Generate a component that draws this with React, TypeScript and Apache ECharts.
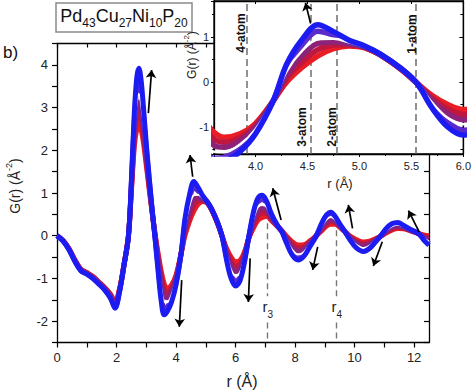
import React, { useEffect, useRef } from 'react';
import * as echarts from 'echarts';

// r grid (Å)
const rValues = [
  0, 0.2, 0.4, 0.6, 0.8, 1.0, 1.2, 1.4, 1.6, 1.8,
  1.95, 2.1, 2.25, 2.4, 2.5, 2.6, 2.68, 2.75, 2.82, 2.9,
  3.0, 3.1, 3.2, 3.3, 3.4, 3.5, 3.6, 3.7, 3.85, 4.0,
  4.17, 4.3, 4.45, 4.6, 4.75, 4.9, 5.05, 5.2, 5.4, 5.55,
  5.7, 5.85, 6.0, 6.15, 6.3, 6.45, 6.6, 6.75, 6.9, 7.05,
  7.2, 7.4, 7.55, 7.7, 7.9, 8.1, 8.3, 8.5, 8.7, 8.9,
  9.05, 9.2, 9.35, 9.5, 9.68, 9.85, 10.05, 10.3, 10.5, 10.7,
  10.86, 11.05, 11.25, 11.45, 11.65, 11.9, 12.15, 12.35, 12.5,
];

const gRed = [
  0, -0.11, -0.30, -0.56, -0.78, -0.86, -0.95, -1.08, -1.21, -1.37,
  -1.55, -1.25, -0.68, 0.00, 1.05, 2.10, 2.50, 2.60, 2.50, 2.20,
  1.65, 1.08, 0.52, 0.02, -0.42, -0.82, -1.12, -1.23, -1.15, -0.92,
  -0.42, 0.00, 0.33, 0.58, 0.74, 0.80, 0.76, 0.60, 0.28, -0.02,
  -0.30, -0.50, -0.61, -0.58, -0.38, -0.05, 0.18, 0.36, 0.43, 0.45,
  0.36, 0.22, 0.12, 0.00, -0.14, -0.22, -0.21, -0.12, -0.01, 0.12,
  0.22, 0.27, 0.27, 0.20, 0.09, -0.01, -0.09, -0.15, -0.13, -0.07,
  -0.02, 0.06, 0.13, 0.17, 0.16, 0.11, 0.05, 0.01, 0.00,
];

const gCrimson = [
  0, -0.11, -0.30, -0.57, -0.79, -0.87, -0.96, -1.09, -1.22, -1.39,
  -1.58, -1.26, -0.68, 0.00, 1.10, 2.26, 2.74, 2.86, 2.74, 2.37,
  1.75, 1.13, 0.54, 0.00, -0.51, -0.96, -1.27, -1.34, -1.23, -0.97,
  -0.42, 0.08, 0.45, 0.72, 0.82, 0.83, 0.77, 0.60, 0.28, -0.02,
  -0.36, -0.60, -0.72, -0.67, -0.43, -0.04, 0.25, 0.46, 0.53, 0.52,
  0.39, 0.23, 0.11, -0.03, -0.20, -0.29, -0.26, -0.15, -0.01, 0.16,
  0.27, 0.33, 0.31, 0.22, 0.09, -0.03, -0.13, -0.19, -0.16, -0.09,
  -0.02, 0.08, 0.16, 0.20, 0.18, 0.12, 0.05, -0.02, -0.04,
];

const gMagenta = [
  0, -0.11, -0.31, -0.58, -0.80, -0.88, -0.97, -1.10, -1.23, -1.41,
  -1.61, -1.28, -0.69, -0.01, 1.15, 2.42, 2.98, 3.13, 2.97, 2.54,
  1.85, 1.19, 0.55, -0.03, -0.59, -1.10, -1.41, -1.45, -1.31, -1.01,
  -0.42, 0.16, 0.58, 0.86, 0.89, 0.85, 0.78, 0.61, 0.29, -0.02,
  -0.41, -0.70, -0.84, -0.77, -0.48, -0.03, 0.33, 0.57, 0.64, 0.59,
  0.42, 0.23, 0.11, -0.06, -0.26, -0.36, -0.32, -0.17, -0.01, 0.19,
  0.32, 0.38, 0.34, 0.23, 0.09, -0.05, -0.17, -0.24, -0.20, -0.10,
  -0.02, 0.10, 0.19, 0.23, 0.19, 0.12, 0.05, -0.04, -0.09,
];

const gWhite = [
  0, -0.12, -0.31, -0.58, -0.80, -0.88, -0.98, -1.11, -1.25, -1.43,
  -1.64, -1.29, -0.69, -0.01, 1.20, 2.58, 3.15, 3.32, 3.12, 2.68,
  1.95, 1.24, 0.57, -0.05, -0.68, -1.24, -1.55, -1.56, -1.39, -1.05,
  -0.42, 0.24, 0.70, 0.95, 0.96, 0.88, 0.78, 0.61, 0.29, -0.02,
  -0.46, -0.80, -0.94, -0.86, -0.52, -0.02, 0.40, 0.67, 0.75, 0.67,
  0.46, 0.24, 0.11, -0.09, -0.33, -0.44, -0.38, -0.20, -0.02, 0.23,
  0.38, 0.44, 0.38, 0.25, 0.09, -0.07, -0.21, -0.29, -0.24, -0.12,
  -0.02, 0.12, 0.22, 0.26, 0.21, 0.13, 0.05, -0.07, -0.14,
];

const gViolet = [
  0, -0.12, -0.32, -0.59, -0.81, -0.89, -0.99, -1.12, -1.26, -1.45,
  -1.67, -1.31, -0.70, -0.02, 1.25, 2.74, 3.46, 3.66, 3.44, 2.88,
  2.05, 1.30, 0.58, -0.08, -0.76, -1.38, -1.70, -1.67, -1.47, -1.10,
  -0.42, 0.32, 0.83, 1.13, 1.04, 0.90, 0.79, 0.62, 0.30, -0.02,
  -0.52, -0.90, -1.07, -0.96, -0.57, -0.01, 0.48, 0.78, 0.85, 0.73,
  0.49, 0.24, 0.11, -0.12, -0.39, -0.50, -0.43, -0.22, -0.02, 0.26,
  0.43, 0.49, 0.41, 0.26, 0.09, -0.08, -0.24, -0.33, -0.27, -0.13,
  -0.02, 0.14, 0.25, 0.28, 0.22, 0.13, 0.05, -0.09, -0.18,
];

const gBlue = [
  0, -0.12, -0.32, -0.60, -0.82, -0.90, -1.00, -1.13, -1.27, -1.47,
  -1.70, -1.32, -0.70, -0.02, 1.30, 2.90, 3.70, 3.92, 3.68, 3.05,
  2.15, 1.35, 0.60, -0.10, -0.85, -1.52, -1.85, -1.78, -1.55, -1.15,
  -0.42, 0.40, 0.95, 1.27, 1.12, 0.93, 0.80, 0.62, 0.30, -0.02,
  -0.58, -1.00, -1.18, -1.05, -0.62, 0.00, 0.55, 0.88, 0.95, 0.80,
  0.52, 0.25, 0.10, -0.15, -0.45, -0.57, -0.48, -0.25, -0.02, 0.30,
  0.48, 0.55, 0.45, 0.28, 0.09, -0.10, -0.28, -0.37, -0.30, -0.15,
  -0.02, 0.16, 0.28, 0.31, 0.24, 0.14, 0.05, -0.12, -0.22,
];

// annotation arrows (from [r, G] to [r, G]) in data units
const mainArrows = [
  [[3.07, 2.87], [3.18, 3.88]],
  [[4.56, 1.38], [4.47, 1.89]],
  [[4.19, -1.04], [4.11, -2.13]],
  [[7.53, 0.37], [7.25, 1.11]],
  [[6.49, -0.53], [6.43, -1.55]],
  [[9.93, 0.17], [9.79, 0.72]],
  [[8.76, -0.26], [8.59, -0.8]],
  [[12.17, 0.09], [11.81, 0.59]],
  [[10.93, -0.14], [10.63, -0.71]],
];
const insetArrows = [[[4.53, 1.3], [4.48, 1.76]]];

const atomLines = [3.92, 4.53, 4.78, 5.54];
const shellMarks = [
  { r: 7.08, top: 0.29, labelY: -1.72, idx: '3' },
  { r: 9.4, top: 0.13, labelY: -1.72, idx: '4' },
];

const FONT = "'Liberation Sans', Arial, Helvetica, sans-serif";

const curveDefs = [
  { values: gRed, color: '#ea1d24', width: 5 },
  { values: gCrimson, color: '#c0173f', width: 5 },
  { values: gMagenta, color: '#8c2279', width: 5 },
  { values: gViolet, color: '#5a2ccc', width: 5 },
  { values: gWhite, color: '#ffffff', width: 2 },
  { values: gBlue, color: '#1c1cf2', width: 5 },
];

function buildOption() {
  const intLabel = (v: number) => (Math.abs(v - Math.round(v)) < 1e-9 ? String(Math.round(v)) : '');
  const evenLabel = (v: number) => (Math.abs(v / 2 - Math.round(v / 2)) < 1e-9 ? String(Math.round(v)) : '');
  const axisLineStyle = { color: '#000', width: 1.3 };

  const series: any[] = [];
  curveDefs.forEach((c, i) => {
    const pts = rValues.map((r, k) => [r, c.values[k]]);
    series.push({
      type: 'line', xAxisIndex: 0, yAxisIndex: 0, data: pts, smooth: 0.35,
      showSymbol: false, symbol: 'none', silent: true, z: 2 + i,
      lineStyle: { color: c.color, width: c.width },
    });
    series.push({
      type: 'line', xAxisIndex: 2, yAxisIndex: 2, data: pts, smooth: 0.35,
      showSymbol: false, symbol: 'none', silent: true, z: 12 + i, clip: true,
      lineStyle: { color: c.color, width: c.width + 0.5 },
    });
  });

  // dashed shell markers in main plot
  series.push({
    type: 'line', xAxisIndex: 0, yAxisIndex: 0, data: [], silent: true, z: 9,
    markLine: {
      z: 9, silent: true, symbol: ['none', 'none'], animation: false,
      label: { show: false },
      lineStyle: { color: '#777', width: 1.4, type: [6, 4] },
      data: shellMarks.flatMap((m) => [
        [{ coord: [m.r, m.top] }, { coord: [m.r, -1.42] }],
        [{ coord: [m.r, -2.03] }, { coord: [m.r, -2.5] }],
      ]),
    },
    markPoint: {
      z: 9, silent: true, symbol: 'circle', symbolSize: 0, animation: false,
      label: {
        show: true, position: 'inside', formatter: (p: any) => `{a|r}{s|${p.name}}`,
        rich: {
          a: { fontFamily: FONT, fontSize: 15, color: '#222', lineHeight: 20, verticalAlign: 'top' },
          s: { fontFamily: FONT, fontSize: 10, color: '#222', lineHeight: 10, verticalAlign: 'bottom' },
        },
      },
      data: shellMarks.map((m) => ({ name: m.idx, coord: [m.r, m.labelY] })),
    },
  });

  // arrows main
  series.push({
    type: 'line', xAxisIndex: 0, yAxisIndex: 0, data: [], silent: true, z: 9,
    markLine: {
      z: 9, silent: true, symbol: ['none', 'arrow'], symbolSize: 8, animation: false,
      label: { show: false },
      lineStyle: { color: '#000', width: 1.7, type: 'solid' },
      data: mainArrows.map((a) => [{ coord: a[0] }, { coord: a[1] }]),
    },
  });

  // inset dashed lines + arrow
  series.push({
    type: 'line', xAxisIndex: 2, yAxisIndex: 2, data: [], silent: true, z: 11,
    markLine: {
      z: 11, silent: true, symbol: ['none', 'none'], animation: false,
      label: { show: false },
      lineStyle: { color: '#777', width: 1.6, type: [7, 4] },
      data: atomLines.map((v) => [{ coord: [v, -1.6] }, { coord: [v, 1.8] }]),
    },
  });
  series.push({
    type: 'line', xAxisIndex: 2, yAxisIndex: 2, data: [], silent: true, z: 20,
    markLine: {
      z: 20, silent: true, symbol: ['none', 'arrow'], symbolSize: 8, animation: false,
      label: { show: false },
      lineStyle: { color: '#000', width: 1.7, type: 'solid' },
      data: insetArrows.map((a) => [{ coord: a[0] }, { coord: a[1] }]),
    },
  });

  const mainTickLabel = { color: '#222', fontSize: 13, fontFamily: FONT };
  const insetTickLabel = { color: '#222', fontSize: 11, fontFamily: FONT };

  const vt = (text: string, x: number, y: number, size: number, bold = false) => ({
    type: 'text', x, y, rotation: Math.PI / 2, z: 100,
    style: { text, fontFamily: FONT, fontSize: size, fontWeight: bold ? 'bold' : 'normal', fill: '#111', align: 'center', verticalAlign: 'middle' },
  });

  return {
    animation: false,
    backgroundColor: '#fff',
    grid: [
      { left: 57, top: 43.5, width: 372, height: 299 },
      { left: 214, top: 1, width: 252, height: 153, show: true, backgroundColor: '#fff', borderColor: '#000', borderWidth: 1.3, z: 10 },
    ],
    xAxis: [
      {
        type: 'value', gridIndex: 0, min: 0, max: 12.5, interval: 1,
        axisLine: { onZero: false, lineStyle: axisLineStyle },
        axisTick: { inside: false, length: 5, lineStyle: { color: '#000', width: 1.2 } },
        axisLabel: { ...mainTickLabel, margin: 8, formatter: evenLabel, showMaxLabel: false },
        splitLine: { show: false },
      },
      {
        type: 'value', gridIndex: 0, min: 0, max: 12.5, interval: 1, position: 'top',
        axisLine: { onZero: false, lineStyle: axisLineStyle },
        axisTick: { inside: true, length: 4, lineStyle: { color: '#000', width: 1.2 } },
        axisLabel: { show: false }, splitLine: { show: false },
      },
      {
        type: 'value', gridIndex: 1, min: 3.6, max: 6.0, splitNumber: 5, z: 11,
        axisLine: { onZero: false, lineStyle: axisLineStyle },
        axisTick: { inside: false, length: 3, lineStyle: { color: '#000' } },
        minorTick: { show: true, splitNumber: 2, length: 2, lineStyle: { color: '#000' } },
        axisLabel: { ...insetTickLabel, margin: 6, showMinLabel: false, formatter: (v: number) => v.toFixed(1) },
        splitLine: { show: false },
      },
      {
        type: 'value', gridIndex: 1, min: 3.6, max: 6.0, splitNumber: 5, position: 'top', z: 11,
        axisLine: { onZero: false, lineStyle: axisLineStyle },
        axisTick: { inside: true, length: 3, lineStyle: { color: '#000' } },
        axisLabel: { show: false }, splitLine: { show: false },
      },
    ],
    yAxis: [
      {
        type: 'value', gridIndex: 0, min: -2.5, max: 4.5, interval: 0.5,
        axisLine: { onZero: false, lineStyle: axisLineStyle },
        axisTick: { inside: false, length: 5, lineStyle: { color: '#000', width: 1.2 } },
        axisLabel: { ...mainTickLabel, margin: 9, formatter: intLabel },
        splitLine: { show: false },
      },
      {
        type: 'value', gridIndex: 0, min: -2.5, max: 4.5, interval: 0.5, position: 'right',
        axisLine: { onZero: false, lineStyle: axisLineStyle },
        axisTick: { inside: true, length: 5, lineStyle: { color: '#000', width: 1.2 } },
        axisLabel: { show: false }, splitLine: { show: false },
      },
      {
        type: 'value', gridIndex: 1, min: -1.6, max: 1.8, splitNumber: 3, z: 11,
        axisLine: { onZero: false, lineStyle: axisLineStyle },
        axisTick: { inside: false, length: 3, lineStyle: { color: '#000' } },
        minorTick: { show: true, splitNumber: 2, length: 2, lineStyle: { color: '#000' } },
        axisLabel: { ...insetTickLabel, margin: 5, formatter: intLabel },
        splitLine: { show: false },
      },
      {
        type: 'value', gridIndex: 1, min: -1.6, max: 1.8, splitNumber: 3, position: 'right', z: 11,
        axisLine: { onZero: false, lineStyle: axisLineStyle },
        axisTick: { inside: true, length: 4, lineStyle: { color: '#000' } },
        minorTick: { show: true, splitNumber: 2, length: 3, lineStyle: { color: '#000' } },
        axisLabel: { show: false }, splitLine: { show: false },
      },
    ],
    series,
    graphic: [
      {
        type: 'rect', z: 100, shape: { x: 56, y: 3, width: 136, height: 29 },
        style: { fill: '#fff', stroke: '#8a8a8a', lineWidth: 1.5 },
      },
      {
        type: 'text', x: 124, y: 18, z: 101,
        style: {
          text: '{a|Pd}{s|43}{a|Cu}{s|27}{a|Ni}{s|10}{a|P}{s|20}',
          align: 'center', verticalAlign: 'middle',
          rich: {
            a: { fontFamily: FONT, fontSize: 18, fill: '#111', lineHeight: 22, verticalAlign: 'top' },
            s: { fontFamily: FONT, fontSize: 12, fill: '#111', lineHeight: 12, verticalAlign: 'bottom' },
          },
        },
      },
      {
        type: 'text', x: 3, y: 52, z: 100,
        style: { text: 'b)', fontFamily: FONT, fontSize: 17, fill: '#111', align: 'left', verticalAlign: 'middle' },
      },
      {
        type: 'text', x: 13, y: 186, rotation: Math.PI / 2, z: 100,
        style: {
          text: '{a|G(r) (Å}{p|-2}{a|)}', align: 'center', verticalAlign: 'middle',
          rich: {
            a: { fontFamily: FONT, fontSize: 14, fill: '#222', lineHeight: 18, verticalAlign: 'bottom' },
            p: { fontFamily: FONT, fontSize: 9, fill: '#222', lineHeight: 9, verticalAlign: 'top' },
          },
        },
      },
      {
        type: 'text', x: 242, y: 381, z: 100,
        style: { text: 'r (Å)', fontFamily: FONT, fontSize: 16, fill: '#222', align: 'center', verticalAlign: 'middle' },
      },
      {
        type: 'text', x: 190, y: 55, rotation: Math.PI / 2, z: 100,
        style: {
          text: '{a|G(r) (Å}{p|-2}{a|)}', align: 'center', verticalAlign: 'middle',
          rich: {
            a: { fontFamily: FONT, fontSize: 12, fill: '#222', lineHeight: 15, verticalAlign: 'bottom' },
            p: { fontFamily: FONT, fontSize: 8, fill: '#222', lineHeight: 8, verticalAlign: 'top' },
          },
        },
      },
      {
        type: 'text', x: 340, y: 183, z: 100,
        style: { text: 'r (Å)', fontFamily: FONT, fontSize: 13, fill: '#222', align: 'center', verticalAlign: 'middle' },
      },
      vt('4-atom', 241, 33, 12, true),
      vt('1-atom', 412, 34, 12, true),
      vt('3-atom', 302, 127, 12, true),
      vt('2-atom', 332, 127, 12, true),
    ],
  };
}

export default function App() {
  const ref = useRef<HTMLDivElement>(null);
  useEffect(() => {
    if (!ref.current) return;
    const chart = echarts.init(ref.current, null, { renderer: 'svg' });
    chart.setOption(buildOption() as any);
    return () => chart.dispose();
  }, []);
  return (
    <div
      ref={ref}
      style={{ position: 'fixed', left: 0, top: 0, width: 474, height: 391, background: '#fff' }}
    />
  );
}
